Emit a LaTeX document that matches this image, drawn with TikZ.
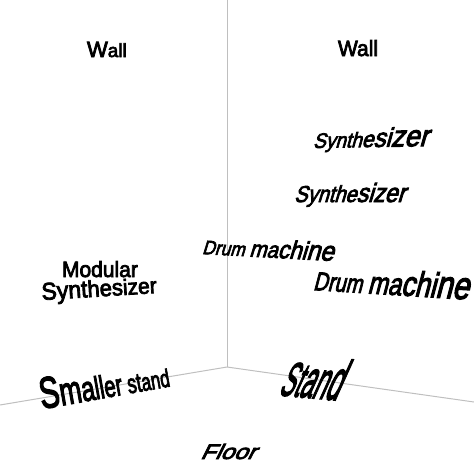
\documentclass[tikz,border=0pt]{standalone}
\usepackage{fontspec}
\setmainfont{Liberation Sans}[FakeBold=3.5]
\newcommand\fsz[1]{\fontsize{#1}{#1}\selectfont}
\begin{document}
\begin{tikzpicture}[x=1pt,y=-1pt,
  edge/.style={draw=black!25,line width=1pt},
  lbl/.style={inner sep=0pt,outer sep=0pt,anchor=base west,text=black}]
\useasboundingbox (0,0) rectangle (474,474);
% room edges
\coordinate (top) at (227,0);
\coordinate (corner) at (227,367);
\coordinate (lft) at (0,405);
\coordinate (rgt) at (474,402);
\draw[edge] (top) -- (corner);
\draw[edge] (corner) -- (lft);
\draw[edge] (corner) -- (rgt);
% left wall
\node[lbl,xscale=1.05,yscale=1.05] (wallL) at (87,57) {{\fsz{21}W}{\fsz{18}all}};
\node[lbl,yscale=1.05] (modular) at (62,277) {\fsz{21}Modular};
\node[lbl,rotate=3.5,yscale=1.05] (modsyn) at (42,300) {{\fsz{23}Synt}{\fsz{22}hes}{\fsz{21}izer}};
\node[lbl,rotate=10,xscale=0.68] (small) at (42,409) {{\fsz{44}S}{\fsz{39}m}{\fsz{35}a}{\fsz{32}ll}{\fsz{30}er}{\fsz{27} st}{\fsz{25}and}};
% right wall
\node[lbl,yscale=1.05] (wallR) at (338,56) {\fsz{21}Wall};
\node[lbl,rotate=1,xslant=0.3,yscale=1.1] (syn1) at (313,148) {{\fsz{19}Synth}{\fsz{21}e}{\fsz{24}si}{\fsz{27}zer}};
\node[lbl,xslant=0.3,yscale=1.15] (syn2) at (294,202) {{\fsz{20}Synthe}{\fsz{23}sizer}};
\node[lbl,rotate=-3,xslant=0.25,xscale=1.02,yscale=1.15] (drum1) at (202,254) {{\fsz{17}Drum }{\fsz{20}ma}{\fsz{22}chi}{\fsz{24}ne}};
\node[lbl,rotate=-3.5,xslant=0.2,yscale=1.3] (drum2) at (313,290) {{\fsz{20}Drum }{\fsz{24}ma}{\fsz{27}chi}{\fsz{30}ne}};
\node[lbl,rotate=-5,xslant=0.35,xscale=0.48,yscale=1.1] (stand) at (278,395) {{\fsz{44}St}{\fsz{48}an}{\fsz{52}d}};
% floor
\node[lbl,xslant=0.5,xscale=1.2,yscale=1.05] (floor) at (200,459) {\fsz{20}Floor};
\end{tikzpicture}
\end{document}
